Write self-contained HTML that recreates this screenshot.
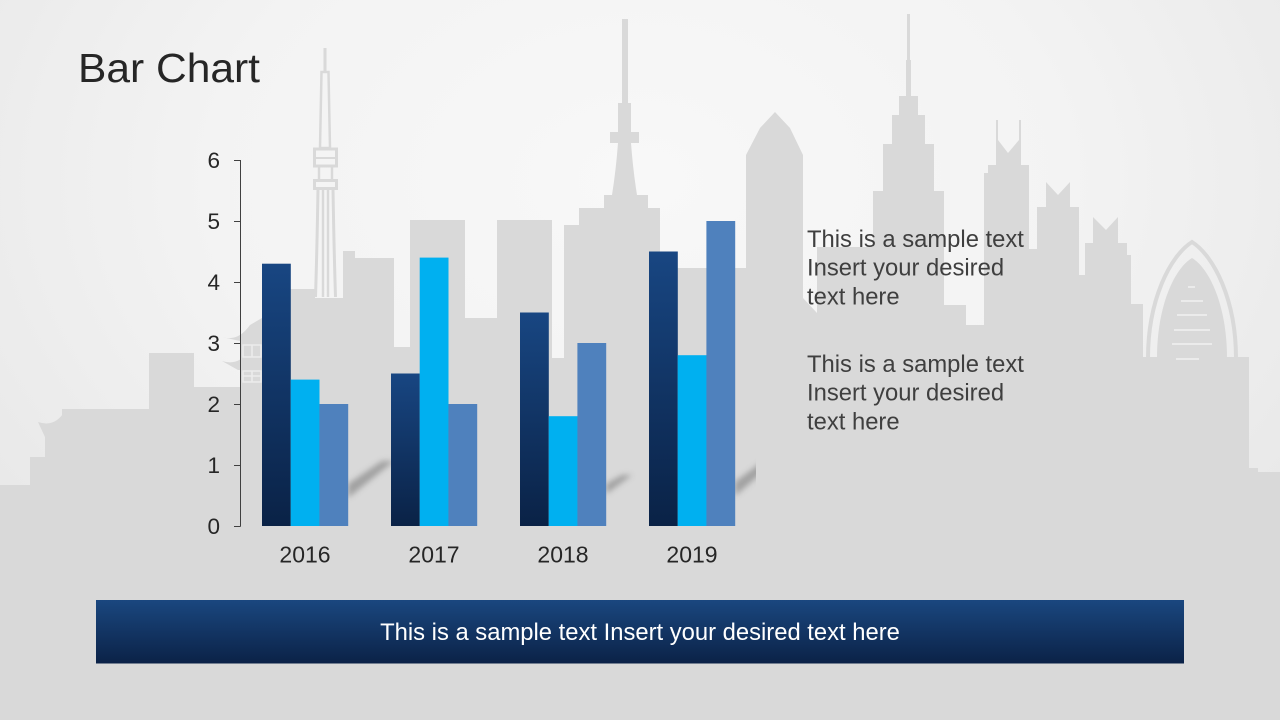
<!DOCTYPE html>
<html>
<head>
<meta charset="utf-8">
<style>
  html,body{margin:0;padding:0;}
  body{width:1280px;height:720px;overflow:hidden;
    background:radial-gradient(ellipse 75% 95% at 50% 25%, #f8f8f8 0%, #f3f3f3 45%, #e3e3e3 100%);}
  svg{display:block;position:absolute;left:0;top:0;}
</style>
</head>
<body>
<svg width="1280" height="720" viewBox="0 0 1280 720" xmlns="http://www.w3.org/2000/svg">
  <defs>
    <linearGradient id="dark" x1="0" y1="0" x2="0" y2="1">
      <stop offset="0" stop-color="#184682"/>
      <stop offset="1" stop-color="#0a2246"/>
    </linearGradient>
    <linearGradient id="foot" x1="0" y1="0" x2="0" y2="1">
      <stop offset="0" stop-color="#1a477f"/>
      <stop offset="1" stop-color="#0b2247"/>
    </linearGradient>
    <filter id="blur" x="-50%" y="-50%" width="200%" height="200%">
      <feGaussianBlur stdDeviation="3"/>
    </filter>
    <clipPath id="chartclip"><rect x="0" y="0" width="756" height="720"/></clipPath>
  </defs>

  <!-- skyline -->
  <g fill="#d9d9d9">
    <path d="M0,485 L30,485 L30,457 L45,457 L45,437 L62,437 L62,409 L149,409 L149,353 L194,353 L194,387 L262,387 L262,289 L315,289 L315,298 L343,298 L343,251 L355,251 L355,258 L394,258 L394,347 L410,347 L410,220 L465,220 L465,318 L497,318 L497,220 L552,220 L552,358 L564,358 L564,225 L579,225 L579,208 L604,208 L604,195 L612,195 Q616,170 618,143 L610,143 L610,132 L618,132 L618,103 L622,103 L622,19 L628,19 L628,103 L631,103 L631,132 L639,132 L639,143 L631,143 Q633,170 637,195 L648,195 L648,208 L660,208 L660,268 L746,268 L746,155 L760,128 L775,112 L790,128 L803,155 L803,298 L817,313 L817,247 L873,247 L873,191 L883,191 L883,144 L892,144 L892,115 L899,115 L899,96 L906,96 L906,60 L907,60 L907,14 L910,14 L910,60 L911,60 L911,96 L918,96 L918,115 L925,115 L925,144 L934,144 L934,191 L944,191 L944,305 L966,305 L966,325 L984,325 L984,173 L988,173 L988,165 L996,165 L996,120 L998,120 L998,140 L1008,153 L1019,140 L1019,120 L1021,120 L1021,165 L1029,165 L1029,249 L1037,249 L1037,207 L1046,207 L1046,182 L1058,195 L1070,182 L1070,207 L1079,207 L1079,275 L1085,275 L1085,243 L1093,243 L1093,217 L1106,230 L1118,217 L1118,243 L1127,243 L1127,255 L1131,255 L1131,304 L1143,304 L1143,357 L1249,357 L1249,468 L1258,468 L1258,472 L1280,472 L1280,720 L0,720 Z"/>
    <!-- left pagoda eave -->
    <path d="M38,422 Q56,428 66,409 L66,437 L45,437 Z"/>
    <!-- pagoda near axis -->
    <path d="M222,337 Q238,342 250,325 L262,318 L262,390 L240,390 L240,341 Z"/>
    <path d="M222,361 Q238,366 248,352 L262,352 L262,370 L238,370 Z"/>
    <!-- gherkin inner -->
    <path d="M1157,358 C1157,305 1175,268 1192,258 C1209,268 1227,305 1227,358 Z"/>
  </g>
  <!-- pagoda windows -->
  <g stroke="#ececec" stroke-width="1.5" fill="none">
    <rect x="243" y="345" width="18" height="12"/>
    <line x1="252" y1="345" x2="252" y2="357"/>
    <rect x="243" y="371" width="18" height="11"/>
    <line x1="252" y1="371" x2="252" y2="382"/>
    <line x1="243" y1="376" x2="261" y2="376"/>
  </g>
  <!-- gherkin arch & lines -->
  <path d="M1148,358 C1148,300 1170,256 1192,242 C1214,256 1236,300 1236,358" fill="none" stroke="#d9d9d9" stroke-width="4"/>
  <g fill="#ebebeb">
    <rect x="1188" y="286" width="7" height="2"/>
    <rect x="1181" y="300" width="22" height="2"/>
    <rect x="1177" y="314" width="30" height="2"/>
    <rect x="1174" y="329" width="36" height="2"/>
    <rect x="1172" y="343" width="40" height="2"/>
    <rect x="1176" y="358" width="23" height="2"/>
  </g>
  <!-- CN tower outline -->
  <g fill="none" stroke="#d9d9d9" stroke-width="3">
    <line x1="325" y1="48" x2="325" y2="72"/>
    <path d="M321.5,72 L328.5,72 L330,148 L320,148 Z" stroke-width="2.5"/>
    <rect x="314.5" y="149" width="22" height="17"/>
    <line x1="315" y1="158" x2="336" y2="158" stroke-width="2"/>
    <path d="M319,166 L319,180 M332,166 L332,180" stroke-width="2.5"/>
    <rect x="314.5" y="180.5" width="22" height="8"/>
    <path d="M318,189 Q317,250 315.5,297" />
    <path d="M333,189 Q334,250 335.5,297" />
    <path d="M323,189 L323,297 M328,189 L328,297" stroke-width="2.5"/>
  </g>

  <!-- title -->
  <text x="78" y="82" font-family="Liberation Sans, Arial, sans-serif" font-size="41" fill="#262626" textLength="182" lengthAdjust="spacingAndGlyphs">Bar Chart</text>

  <!-- shadows -->
  <g clip-path="url(#chartclip)" filter="url(#blur)" opacity="0.75">
    <path d="M348,498 L348,484 L382,461 L394,461 Z" fill="#8e8e8e"/>
    <path d="M606,494 L606,484 L622,475 L632,475 Z" fill="#8e8e8e"/>
    <path d="M735,496 L735,482 L766,459 L778,459 Z" fill="#8e8e8e"/>
  </g>

  <!-- axis -->
  <g stroke="#404040" stroke-width="1">
    <line x1="240.5" y1="160" x2="240.5" y2="526.5"/>
    <line x1="234" y1="160.5" x2="240.5" y2="160.5"/>
    <line x1="234" y1="221.5" x2="240.5" y2="221.5"/>
    <line x1="234" y1="282.5" x2="240.5" y2="282.5"/>
    <line x1="234" y1="343.5" x2="240.5" y2="343.5"/>
    <line x1="234" y1="404.5" x2="240.5" y2="404.5"/>
    <line x1="234" y1="465.5" x2="240.5" y2="465.5"/>
    <line x1="234" y1="526.5" x2="240.5" y2="526.5"/>
  </g>
  <g font-family="Liberation Sans, Arial, sans-serif" font-size="22.5" fill="#262626" text-anchor="end">
    <text x="220" y="168">6</text>
    <text x="220" y="229">5</text>
    <text x="220" y="290">4</text>
    <text x="220" y="351">3</text>
    <text x="220" y="412">2</text>
    <text x="220" y="473">1</text>
    <text x="220" y="534">0</text>
  </g>

  <!-- bars: zero at 526, 61px per unit -->
  <!-- 2016 -->
  <rect x="262" y="263.7" width="28.8" height="262.3" fill="url(#dark)"/>
  <rect x="290.7" y="379.6" width="28.8" height="146.4" fill="#00b0f0"/>
  <rect x="319.4" y="404" width="28.8" height="122" fill="#4f81bd"/>
  <!-- 2017 -->
  <rect x="391" y="373.5" width="28.8" height="152.5" fill="url(#dark)"/>
  <rect x="419.7" y="257.6" width="28.8" height="268.4" fill="#00b0f0"/>
  <rect x="448.4" y="404" width="28.8" height="122" fill="#4f81bd"/>
  <!-- 2018 -->
  <rect x="520" y="312.5" width="28.8" height="213.5" fill="url(#dark)"/>
  <rect x="548.7" y="416.2" width="28.8" height="109.8" fill="#00b0f0"/>
  <rect x="577.4" y="343" width="28.8" height="183" fill="#4f81bd"/>
  <!-- 2019 -->
  <rect x="649" y="251.5" width="28.8" height="274.5" fill="url(#dark)"/>
  <rect x="677.7" y="355.2" width="28.8" height="170.8" fill="#00b0f0"/>
  <rect x="706.4" y="221" width="28.8" height="305" fill="#4f81bd"/>

  <g font-family="Liberation Sans, Arial, sans-serif" font-size="23" fill="#262626" text-anchor="middle">
    <text x="305" y="562.5">2016</text>
    <text x="434" y="562.5">2017</text>
    <text x="563" y="562.5">2018</text>
    <text x="692" y="562.5">2019</text>
  </g>

  <!-- right text -->
  <g font-family="Liberation Sans, Arial, sans-serif" font-size="23.8" fill="#3f3f3f">
    <text x="807" y="247">This is a sample text</text>
    <text x="807" y="275.7">Insert your desired</text>
    <text x="807" y="304.4">text here</text>
    <text x="807" y="372">This is a sample text</text>
    <text x="807" y="400.7">Insert your desired</text>
    <text x="807" y="429.4">text here</text>
  </g>

  <!-- footer banner -->
  <rect x="96" y="600" width="1088" height="63.5" fill="url(#foot)"/>
  <text x="640" y="640" font-family="Liberation Sans, Arial, sans-serif" font-size="23.8" fill="#ffffff" text-anchor="middle">This is a sample text Insert your desired text here</text>
</svg>
</body>
</html>
